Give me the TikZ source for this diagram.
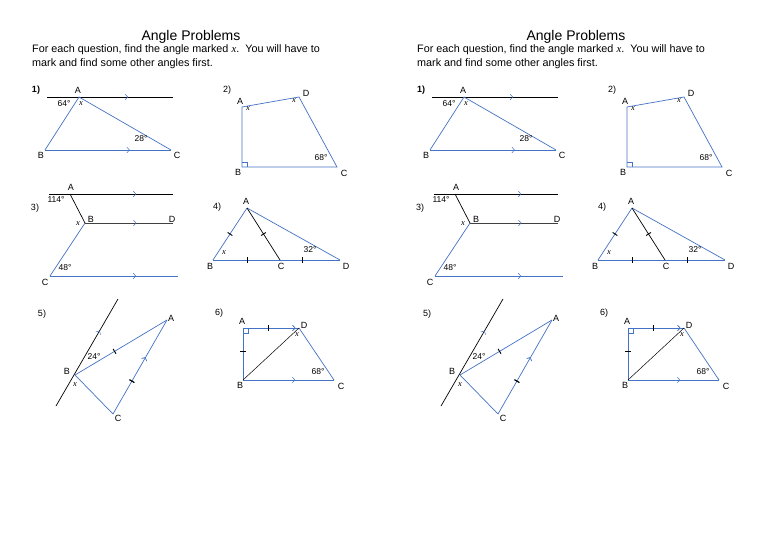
\documentclass[tikz,border=0pt]{standalone}
\usepackage{fontspec}
\setmainfont{Liberation Sans}
\newfontfamily\serifx{Liberation Serif}
\usetikzlibrary{decorations.markings}
\definecolor{lblue}{RGB}{68,114,196}
\tikzset{
  ln/.style={line width=0.7pt},
  bl/.style={ln,draw=lblue},
  bk/.style={ln,draw=black},
  parr/.style={postaction={decorate},decoration={markings,mark=at position #1 with {\draw[line width=0.5pt,lblue] (-2.5pt,2.8pt)--(0,0)--(-2.5pt,-2.8pt);}}},
  tick/.style={postaction={decorate},decoration={markings,mark=at position #1 with {\draw[line width=0.9pt,black] (0,-2.8pt)--(0,2.8pt);}}},
  lab/.style={font=\fontsize{9}{10}\selectfont,inner sep=0pt},
  ang/.style={font=\fontsize{8.5}{9}\selectfont,inner sep=0pt},
}
\newcommand{\xx}{{\serifx\itshape x}}
\newcommand{\worksheet}{%
  \node[inner sep=0pt,font=\fontsize{14}{16}\selectfont] (title) at (191,37) {Angle Problems};
  \node[inner sep=0pt,anchor=west,font=\fontsize{10.8}{12}\selectfont] (l1) at (32,50) {For each question, find the angle marked \xx.\ \ You will have to};
  \node[inner sep=0pt,anchor=west,font=\fontsize{10.8}{12}\selectfont] (l2) at (32,64) {mark and find some other angles first.};
  % 1
  \node[lab,font=\bfseries\fontsize{9}{10}\selectfont] (n1) at (36,90) {1)};
  \coordinate (a1L) at (47,97); \coordinate (a1R) at (173,97);
  \coordinate (A1) at (79,97); \coordinate (B1) at (45,150); \coordinate (C1) at (171,150);
  \draw[bk,parr=0.64] (a1L) -- (a1R);
  \draw[bl] (B1) -- (A1) -- (C1);
  \draw[bl,parr=0.67] (B1) -- (C1);
  \node[lab] at (78,90) {A}; \node[lab] at (41,155) {B}; \node[lab] at (177,155) {C};
  \node[ang] at (64,104) {64°}; \node[ang] at (81,104) {\xx}; \node[ang] at (141,139) {28°};
  % 2
  \node[lab] (n2) at (227,90) {2)};
  \coordinate (A2) at (242,107); \coordinate (D2) at (299,97); \coordinate (B2) at (242,167); \coordinate (C2) at (337,167);
  \draw[bl] (B2) -- (A2) -- (D2) -- (C2) -- cycle;
  \draw[bl,line width=0.5pt] (242,162) -- (247,162) -- (247,167);
  \node[lab] at (240,101) {A}; \node[lab] at (306,93) {D}; \node[lab] at (238,172) {B}; \node[lab] at (344,173) {C};
  \node[ang] at (248,109) {\xx}; \node[ang] at (294,101) {\xx}; \node[ang] at (321,158) {68°};
  % 3
  \node[lab] (n3) at (35,208) {3)};
  \coordinate (t3L) at (49,194); \coordinate (t3R) at (173,194);
  \coordinate (A3) at (70,194); \coordinate (B3) at (85,223); \coordinate (D3) at (173,223);
  \coordinate (C3) at (50,276); \coordinate (b3R) at (178,276);
  \draw[bk,parr=0.7] (t3L) -- (t3R);
  \draw[bk] (A3) -- (B3);
  \draw[ln,draw=black!75,parr=0.58] (B3) -- (D3);
  \draw[bl] (B3) -- (C3);
  \draw[bl,parr=0.67] (C3) -- (b3R);
  \node[lab] at (71,187) {A}; \node[lab] at (91,219) {B}; \node[lab] at (172,219) {D}; \node[lab] at (45,282) {C};
  \node[ang] at (56,200) {114°}; \node[ang] at (78,224) {\xx}; \node[ang] at (65,268) {48°};
  % 4
  \node[lab] (n4) at (217,207) {4)};
  \coordinate (A4) at (247,208); \coordinate (B4) at (213,260); \coordinate (C4) at (280,260); \coordinate (D4) at (340,260);
  \draw[bl,tick=0.5] (B4) -- (A4);
  \draw[bl] (A4) -- (D4);
  \draw[bk,tick=0.5] (A4) -- (C4);
  \draw[bl,tick=0.52] (B4) -- (C4);
  \draw[bl,tick=0.38] (C4) -- (D4);
  \node[lab] at (246,201) {A}; \node[lab] at (210,266) {B}; \node[lab] at (281,266) {C}; \node[lab] at (346,266) {D};
  \node[ang] at (224,253) {\xx}; \node[ang] at (310,250) {32°};
  % 5
  \node[lab] (n5) at (42,314) {5)};
  \coordinate (p5a) at (56,406); \coordinate (p5b) at (118,299);
  \coordinate (B5) at (75,375); \coordinate (A5) at (167,320); \coordinate (C5) at (113,414);
  \draw[bk,parr=0.7] (p5a) -- (p5b);
  \draw[bl,tick=0.43] (B5) -- (A5);
  \draw[bl,tick=0.35,parr=0.6] (C5) -- (A5);
  \draw[bl] (B5) -- (C5);
  \node[lab] at (171,318) {A}; \node[lab] at (67,371) {B}; \node[lab] at (118,418) {C};
  \node[ang] at (94,357) {24°}; \node[ang] at (75,385) {\xx};
  % 6
  \node[lab] (n6) at (219,313) {6)};
  \coordinate (A6) at (243,328); \coordinate (D6) at (299,328); \coordinate (B6) at (243,380); \coordinate (C6) at (334,380);
  \draw[bl,tick=0.45,parr=0.93] (A6) -- (D6);
  \draw[bl,tick=0.45] (A6) -- (B6);
  \draw[bl] (D6) -- (C6);
  \draw[bl,parr=0.57] (B6) -- (C6);
  \draw[bk,line width=0.5pt] (B6) -- (D6);
  \draw[bl,line width=0.5pt] (243,333) -- (248,333) -- (248,328);
  \node[lab] at (242,321) {A}; \node[lab] at (304,325) {D}; \node[lab] at (240,385) {B}; \node[lab] at (341,386) {C};
  \node[ang] at (297,335) {\xx}; \node[ang] at (318,372) {68°};
}
\begin{document}
\begin{tikzpicture}[x=1pt,y=-1pt]
\useasboundingbox (0,0) rectangle (768,543);
\fill[white] (0,0) rectangle (768,543);
\begin{scope}\worksheet\end{scope}
\begin{scope}[shift={(385,0)}]\worksheet\end{scope}
\end{tikzpicture}
\end{document}
